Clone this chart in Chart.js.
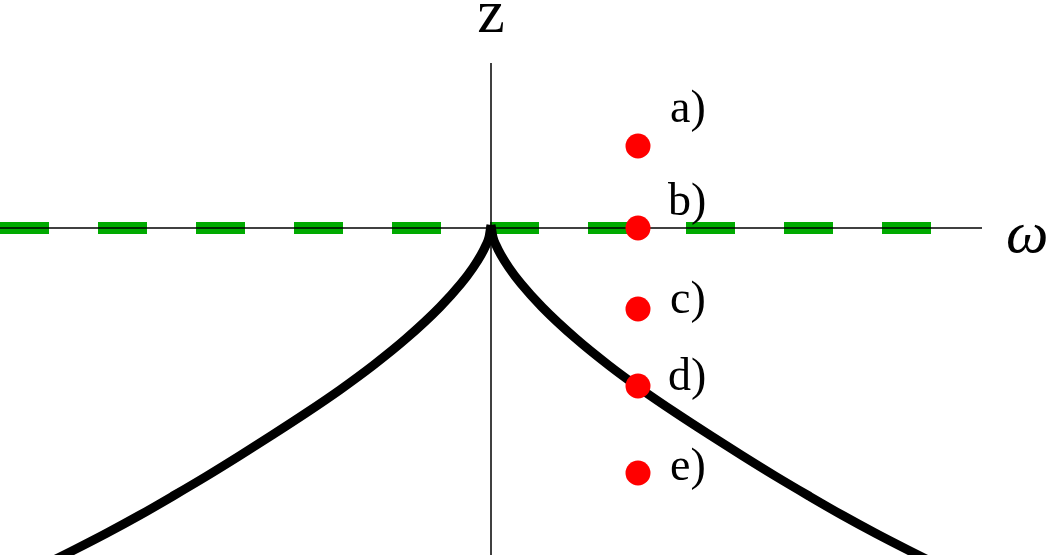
<!DOCTYPE html>
<html>
<head>
<meta charset="utf-8">
<script src="https://cdn.jsdelivr.net/npm/chart.js@4.4.1/dist/chart.umd.min.js"></script>
<style>
  html, body { margin: 0; padding: 0; background: #fff; }
  #wrap { width: 1050px; height: 555px; position: relative; }
</style>
</head>
<body>
<div id="wrap"><canvas id="chart"></canvas></div>
<script>
// cusp curve, two branches (omega, z)
const leftOmega  = [-4.45, -4.18, -3.85, -3.51, -3.18, -2.85, -2.51, -2.18, -1.85, -1.51, -1.18, -0.85, -0.51, -0.30, -0.18, -0.10, -0.05, -0.02, 0];
const leftZ      = [-3.360, -3.225, -3.055, -2.870, -2.680, -2.485, -2.275, -2.065, -1.850, -1.618, -1.375, -1.107, -0.790, -0.557, -0.397, -0.270, -0.171, -0.093, 0.03];
const rightOmega = [0, 0.02, 0.05, 0.10, 0.18, 0.30, 0.51, 0.85, 1.18, 1.51, 1.85, 2.18, 2.51, 2.85, 3.18, 3.51, 3.85, 4.18, 4.45];
const rightZ     = [0.03, -0.093, -0.171, -0.270, -0.397, -0.557, -0.790, -1.107, -1.375, -1.618, -1.850, -2.065, -2.275, -2.485, -2.680, -2.870, -3.055, -3.225, -3.360];

// red test points
const pointOmega  = [1.47, 1.47, 1.47, 1.47, 1.47];
const pointZ      = [0.82, 0, -0.81, -1.58, -2.45];
const pointLabels = ['a)', 'b)', 'c)', 'd)', 'e)'];

// green dashed level z = 0
const flatOmega = [-4.91, 4.43];
const flatZ     = [0, 0];

// axes
const hAxisOmega = [-4.91, 4.91];
const hAxisZ     = [0, 0];
const vAxisOmega = [0, 0];
const vAxisZ     = [-3.3, 1.65];
const axisTitles = ['z', 'ω'];

const SERIF = '"Liberation Serif", "Times New Roman", "DejaVu Serif", serif';

const toXY = (xs, ys) => xs.map((x, i) => ({ x: x, y: ys[i] }));

const textPlugin = {
    id: 'texts',
    afterDatasetsDraw(chart) {
        const ctx = chart.ctx;
        const xs = chart.scales.x, ys = chart.scales.y;
        ctx.save();
        ctx.fillStyle = '#000';
        ctx.textBaseline = 'alphabetic';

        // labels next to the red points
        const offs = [[32, -24], [30, -13], [32, 4], [30, 4], [32, 7]];
        ctx.font = '46px ' + SERIF;
        ctx.textAlign = 'left';
        pointLabels.forEach((t, i) => {
            ctx.fillText(t, xs.getPixelForValue(pointOmega[i]) + offs[i][0],
                            ys.getPixelForValue(pointZ[i]) + offs[i][1]);
        });

        // axis names
        ctx.textAlign = 'center';
        ctx.font = '62px ' + SERIF;
        ctx.fillText(axisTitles[0], xs.getPixelForValue(0), 32);
        ctx.textAlign = 'left';
        ctx.font = 'italic 60px ' + SERIF;
        ctx.fillText(axisTitles[1], xs.getPixelForValue(hAxisOmega[1]) + 24, ys.getPixelForValue(0) + 24);
        ctx.restore();
    }
};

const lineSet = (xs, ys, color, width) => ({
    data: toXY(xs, ys),
    showLine: true,
    borderColor: color,
    borderWidth: width,
    borderCapStyle: 'butt',
    pointRadius: 0
});

const curveL = lineSet(leftOmega, leftZ, '#000', 9);
const curveR = lineSet(rightOmega, rightZ, '#000', 9);
curveL.cubicInterpolationMode = 'monotone';
curveR.cubicInterpolationMode = 'monotone';

const flat = lineSet(flatOmega, flatZ, '#00aa00', 12);
flat.borderDash = [49, 49];

const ctx = document.getElementById('chart').getContext('2d');
new Chart(ctx, {
    type: 'scatter',
    data: {
        datasets: [
            {
                data: toXY(pointOmega, pointZ),
                backgroundColor: '#ff0000',
                borderWidth: 0,
                pointRadius: 12.5
            },
            curveL,
            curveR,
            lineSet(hAxisOmega, hAxisZ, '#000', 1.5),
            lineSet(vAxisOmega, vAxisZ, '#000', 1.5),
            flat
        ]
    },
    options: {
        responsive: true,
        maintainAspectRatio: false,
        animation: false,
        layout: { padding: 0, autoPadding: false },
        scales: {
            x: { type: 'linear', min: -4.91, max: 5.59, display: false },
            y: { type: 'linear', min: -3.27, max: 2.28, display: false }
        },
        plugins: {
            legend: { display: false },
            tooltip: { enabled: false }
        }
    },
    plugins: [textPlugin]
});
</script>
</body>
</html>
